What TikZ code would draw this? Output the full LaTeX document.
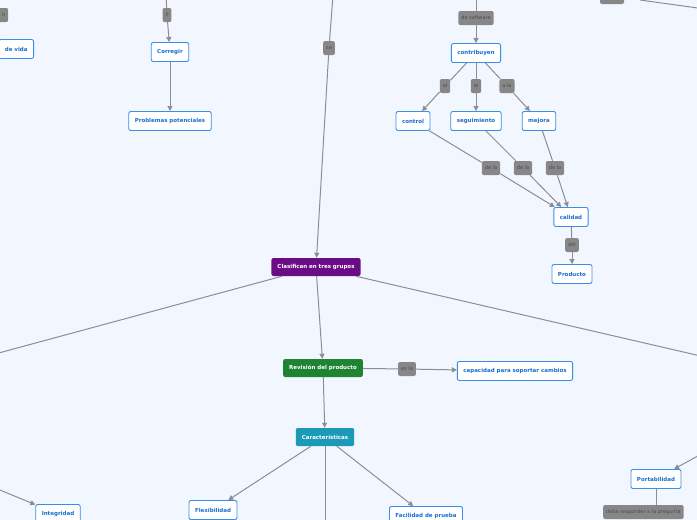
\documentclass[tikz,border=0pt]{standalone}
\usepackage{fontspec}
\setmainfont{DejaVu Sans}
\usetikzlibrary{arrows.meta}
\definecolor{bg}{HTML}{F2F6FE}
\definecolor{nb}{HTML}{3A8EEB}
\definecolor{nt}{HTML}{1A6FD0}
\definecolor{lg}{HTML}{878787}
\definecolor{ln}{HTML}{8C8E94}
\definecolor{pur}{HTML}{6B0C87}
\definecolor{grn}{HTML}{1E8433}
\definecolor{teal}{HTML}{1A9AB7}
\begin{document}
\begin{tikzpicture}[x=1pt,y=-1pt,
 nd/.style={draw=nb,line width=0.9pt,fill=white,rounded corners=2pt,text=nt,font=\fontsize{5.5}{6}\selectfont\bfseries,inner xsep=6pt,minimum height=19pt},
 mn/.style={rounded corners=2pt,text=white,font=\fontsize{5.5}{6}\selectfont\bfseries,inner xsep=6pt,minimum height=18pt},
 lb/.style={fill=lg,rounded corners=2pt,text=black!70,font=\fontsize{5}{6}\selectfont,inner xsep=3pt,minimum height=14pt},
 ar/.style={draw=ln,line width=1pt,-{Triangle[length=5pt,width=5pt]}},
 ln/.style={draw=ln,line width=1pt}]
\fill[bg] (0,0) rectangle (697,520);
\clip (0,0) rectangle (697,520);
% top-left
\node[lb] (n) at (2,15) {\ \ n};
\node[nd,anchor=east] (vida) at (34,49) {de vida};
\coordinate (ty) at (166,-5);
\node[lb] (y) at (167,15) {y};
\node[nd] (corr) at (170,52) {Corregir};
\node[nd] (prob) at (170,121) {Problemas potenciales};
\draw[ln] (ty) -- (y); \draw[ar] (y) -- (corr); \draw[ar] (corr) -- (prob);
% center
\coordinate (tse) at (333,-5);
\node[lb] (se) at (329,48) {se};
\node[mn,fill=pur] (clas) at (316,267) {Clasifican en tres grupos};
\draw[ln] (tse) -- (se); \draw[ar] (se) -- (clas);
% top right
\coordinate (tsw) at (476,-5);
\node[lb] (sw) at (476,18) {de software};
\node[nd] (con) at (476,53) {contribuyen};
\draw[ln] (tsw) -- (sw); \draw[ar] (sw) -- (con);
\node[lb,minimum width=24pt] (tr) at (612,-3) {};
\coordinate (tre) at (705,9);
\draw[ln] (640,0) -- (tre);
\node[lb] (al1) at (445,86) {al};
\node[lb] (al2) at (476,86) {al};
\node[lb] (ala) at (507,86) {a la};
\node[nd] (ctl) at (413,121) {control};
\node[nd] (seg) at (476,121) {seguimiento};
\node[nd] (mej) at (539,121) {mejora};
\draw[ln] (con) -- (al1); \draw[ar] (al1) -- (ctl);
\draw[ln] (con) -- (al2); \draw[ar] (al2) -- (seg);
\draw[ln] (con) -- (ala); \draw[ar] (ala) -- (mej);
\node[lb] (d1) at (491,168) {de la};
\node[lb] (d2) at (523,168) {de la};
\node[lb] (d3) at (555,168) {de la};
\node[nd] (cal) at (571,217) {calidad};
\draw[ln] (ctl) -- (d1); \draw[ar] (d1) -- (cal);
\draw[ln] (seg) -- (d2); \draw[ar] (d2) -- (cal);
\draw[ln] (mej) -- (d3); \draw[ar] (d3) -- (cal);
\node[lb] (del) at (572,245) {del};
\node[nd] (prod) at (572,274) {Producto};
\draw[ln] (cal) -- (del); \draw[ar] (del) -- (prod);
% middle
\coordinate (cl) at (-5,354);
\coordinate (cr) at (705,357);
\draw[ln] (clas) -- (cl); \draw[ln] (clas) -- (cr);
\node[mn,fill=grn] (rev) at (323,368) {Revisión del producto};
\draw[ar] (clas) -- (rev);
\node[lb] (esla) at (407,369) {es la};
\node[nd] (cap) at (515,371) {capacidad para soportar cambios};
\draw[ln] (rev) -- (esla); \draw[ar] (esla) -- (cap);
\node[mn,fill=teal] (car) at (325,437) {Características};
\draw[ar] (rev) -- (car);
\node[nd] (flex) at (213,510) {Flexibilidad};
\node[nd] (fac) at (426,516) {Facilidad de prueba};
\coordinate (cd) at (325,525);
\draw[ar] (car) -- (flex); \draw[ar] (car) -- (fac); \draw[ln] (car) -- (cd);
\coordinate (il) at (-5,488);
\node[nd] (int) at (58,514) {Integridad};
\draw[ar] (il) -- (int);
\coordinate (pr) at (705,452);
\node[nd] (port) at (656,479) {Portabilidad};
\draw[ar] (pr) -- (port);
\node[lb,anchor=west] (deb) at (603,512) {debe responder a la pregunta};
\draw[ln] (port) -- (port|-deb.north);
\end{tikzpicture}
\end{document}
